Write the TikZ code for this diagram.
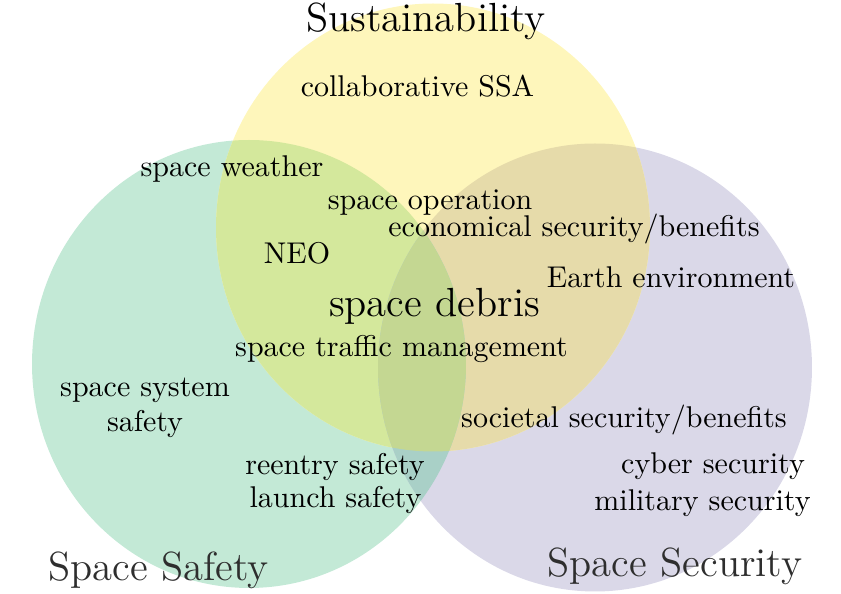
\documentclass[tikz,border=0pt]{standalone}
\definecolor{gOnly}{RGB}{195,233,214}
\definecolor{yOnly}{RGB}{254,246,187}
\definecolor{pOnly}{RGB}{218,216,232}
\definecolor{gyCol}{RGB}{212,232,156}
\definecolor{ypCol}{RGB}{230,219,170}
\definecolor{gpCol}{RGB}{169,208,199}
\definecolor{gypCol}{RGB}{196,215,146}
\def\pathG{(249,364) ellipse [x radius=73.06pt, y radius=75.42pt]}
\def\pathY{(433,227.5) ellipse [x radius=73.06pt, y radius=75.42pt]}
\def\pathP{(595,367.5) ellipse [x radius=73.06pt, y radius=75.42pt]}
\begin{document}
\begin{tikzpicture}[x=0.3367pt,y=-0.3367pt,
  lbl/.style={anchor=base, inner sep=0pt, font=\fontsize{10.1}{12}\selectfont},
  biglbl/.style={anchor=base, inner sep=0pt, font=\fontsize{13.7}{16}\selectfont},
  setlbl/.style={biglbl, text=black!82}]
\useasboundingbox (0,0) rectangle (841,594);
% base sets
\fill[gOnly] \pathG;
\fill[pOnly] \pathP;
\fill[yOnly] \pathY;
% pairwise overlaps
\begin{scope}\clip \pathG; \fill[gyCol] \pathY;\end{scope}
\begin{scope}\clip \pathY; \fill[ypCol] \pathP;\end{scope}
\begin{scope}\clip \pathG; \fill[gpCol] \pathP;\end{scope}
% triple overlap
\begin{scope}\clip \pathG; \clip \pathY; \fill[gypCol] \pathP;\end{scope}
% set titles
\node[biglbl] (sus) at (426,32) {Sustainability};
\node[setlbl] (saf) at (158.5,581) {Space Safety};
\node[setlbl] (sec) at (675,577) {Space Security};
% labels
\node[lbl] (ssa) at (417.5,97) {collaborative SSA};
\node[lbl] (wea) at (232,177) {space weather};
\node[lbl] (ope) at (430,209.5) {space operation};
\node[lbl] (eco) at (574,236.5) {economical security/benefits};
\node[lbl] (neo) at (297,264) {NEO};
\node[lbl] (ear) at (671,287.5) {Earth environment};
\node[biglbl] (deb) at (434.5,316.5) {space debris};
\node[lbl] (stm) at (401.5,356.5) {space traffic management};
\node[lbl] (sys) at (145,397) {space system};
\node[lbl] (sys2) at (145,432) {safety};
\node[lbl] (soc) at (624,428) {societal security/benefits};
\node[lbl] (ree) at (335,475) {reentry safety};
\node[lbl] (lau) at (335.5,508) {launch safety};
\node[lbl] (cyb) at (713,474) {cyber security};
\node[lbl] (mil) at (702.5,511) {military security};
\end{tikzpicture}
\end{document}
